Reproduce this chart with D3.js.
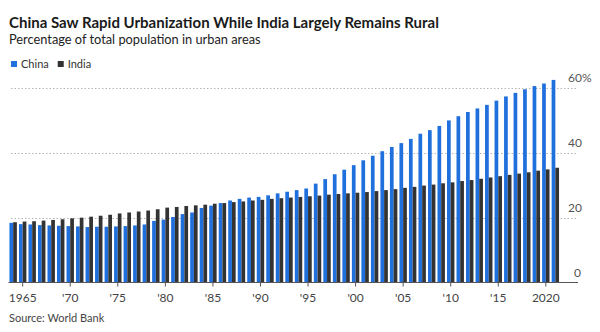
<!DOCTYPE html>
<html>
<head>
<meta charset="utf-8">
<script src="https://cdn.jsdelivr.net/npm/d3@7"></script>
<style>
  html, body { margin: 0; padding: 0; background: #fff; }
  svg { display: block; font-family: Lato, "Noto Sans", sans-serif; }
</style>
</head>
<body>
<script>
const WIDTH_SVG = 600;
const HEIGHT_SVG = 332;

// Data (World Bank urban share, %)
const years = d3.range(1964, 2022);
const china = [
  18.4, 18.0, 17.9, 17.7, 17.6, 17.5, 17.4, 17.3, 17.1, 17.2, 17.2, 17.3, 17.4, 17.6, 17.9, 19.0,
  19.4, 20.2, 21.1, 21.6, 23.0, 23.7, 24.5, 25.3, 25.8, 26.2, 26.4, 26.9, 27.5, 28.0, 28.5,
  29.0, 30.5, 31.9, 33.4, 34.8, 36.2, 37.7, 39.1, 40.5, 41.8, 43.0, 44.3, 45.9, 47.0, 48.3,
  50.0, 51.3, 52.6, 53.7, 54.8, 56.1, 57.4, 58.5, 59.6, 60.6, 61.4, 62.5
];
const india = [
  18.6, 18.8, 18.9, 19.1, 19.3, 19.5, 19.8, 20.0, 20.3, 20.6, 20.9, 21.3, 21.6, 21.9, 22.2, 22.6,
  23.1, 23.3, 23.6, 23.8, 24.0, 24.3, 24.5, 24.8, 25.0, 25.3, 25.5, 25.8, 26.0, 26.2, 26.4,
  26.6, 26.8, 27.1, 27.3, 27.5, 27.7, 27.9, 28.2, 28.5, 28.8, 29.2, 29.5, 29.9, 30.2, 30.6,
  30.9, 31.3, 31.6, 32.0, 32.4, 32.8, 33.2, 33.6, 34.0, 34.5, 34.9, 35.4
];
const seriesNames = ["China", "India"];
const seriesColors = ["#1f6fdc", "#333333"];
const yTicks = [0, 20, 40, 60];
const xTickYears = [1965, 1970, 1975, 1980, 1985, 1990, 1995, 2000, 2005, 2010, 2015, 2020];

const PLOT_LEFT = 8.5;
const PLOT_RIGHT = 560;
const BASELINE = 282.5;

const svg = d3.select("body")
    .append("svg")
        .attr("width", WIDTH_SVG)
        .attr("height", HEIGHT_SVG)
        .attr("viewBox", `0 0 ${WIDTH_SVG} ${HEIGHT_SVG}`);

// Title block
svg.append("text")
    .attr("x", 9).attr("y", 28)
    .attr("font-size", 15).attr("font-weight", 700).attr("fill", "#1a1a1a")
    .text("China Saw Rapid Urbanization While India Largely Remains Rural");
svg.append("text")
    .attr("x", 9).attr("y", 44)
    .attr("font-size", 12.8).attr("fill", "#222")
    .text("Percentage of total population in urban areas");

// Legend
let lx = 11;
seriesNames.forEach((name, i) => {
    svg.append("rect")
        .attr("x", lx).attr("y", 61)
        .attr("width", 6).attr("height", 6)
        .attr("fill", seriesColors[i]);
    const t = svg.append("text")
        .attr("x", lx + 10).attr("y", 67.5)
        .attr("font-size", 11).attr("fill", "#333")
        .text(name);
    lx += 10 + t.node().getComputedTextLength() + 9;
});

// Scales
const x = d3.scaleBand()
    .domain(years)
    .range([PLOT_LEFT, PLOT_RIGHT])
    .paddingInner(0.22)
    .paddingOuter(0.1);

const xSub = d3.scaleBand()
    .domain(seriesNames)
    .range([0, x.bandwidth()])
    .padding(0);

const y = d3.scaleLinear()
    .domain([0, 60])
    .range([BASELINE, 88]);

// Gridlines
svg.append("g")
    .selectAll("line")
    .data(yTicks.filter(d => d > 0))
    .join("line")
        .attr("x1", 11).attr("x2", 578)
        .attr("y1", d => Math.round(y(d)) + 0.5)
        .attr("y2", d => Math.round(y(d)) + 0.5)
        .attr("stroke", "#b5b5b5")
        .attr("stroke-width", 1)
        .attr("stroke-dasharray", "1.5,2");

// Y labels (right side, above gridlines)
svg.append("g")
    .selectAll("text")
    .data(yTicks)
    .join("text")
        .attr("x", d => d === 0 ? 574 : 568)
        .attr("y", d => y(d) - 6)
        .attr("font-size", 12)
        .attr("fill", "#555")
        .text(d => d === 60 ? "60%" : d);

// Bars
const groups = svg.append("g")
    .selectAll("g")
    .data(years.map((yr, i) => ({ year: yr, values: [china[i], india[i]] })))
    .join("g")
        .attr("transform", d => `translate(${x(d.year)},0)`);

groups.selectAll("rect")
    .data(d => d.values.map((v, i) => ({ name: seriesNames[i], value: v, color: seriesColors[i] })))
    .join("rect")
        .attr("x", d => xSub(d.name))
        .attr("y", d => y(d.value))
        .attr("width", xSub.bandwidth())
        .attr("height", d => BASELINE - y(d.value))
        .attr("fill", d => d.color);

// Baseline
svg.append("line")
    .attr("x1", PLOT_LEFT).attr("x2", 578)
    .attr("y1", BASELINE).attr("y2", BASELINE)
    .attr("stroke", "#555").attr("stroke-width", 1);

// X axis ticks
const xAxis = svg.append("g");
xAxis.selectAll("line")
    .data(xTickYears)
    .join("line")
        .attr("x1", d => x(d) + x.bandwidth() / 2)
        .attr("x2", d => x(d) + x.bandwidth() / 2)
        .attr("y1", BASELINE).attr("y2", BASELINE + 4)
        .attr("stroke", "#555");
xAxis.selectAll("text")
    .data(xTickYears)
    .join("text")
        .attr("x", d => x(d) + x.bandwidth() / 2)
        .attr("y", 302)
        .attr("text-anchor", "middle")
        .attr("font-size", 12)
        .attr("fill", "#444")
        .text(d => (d === 1965 || d === 2020) ? d : "'" + String(d).slice(2));

// Source
svg.append("text")
    .attr("x", 9).attr("y", 322)
    .attr("font-size", 11).attr("fill", "#444")
    .text("Source: World Bank");
</script>
</body>
</html>
